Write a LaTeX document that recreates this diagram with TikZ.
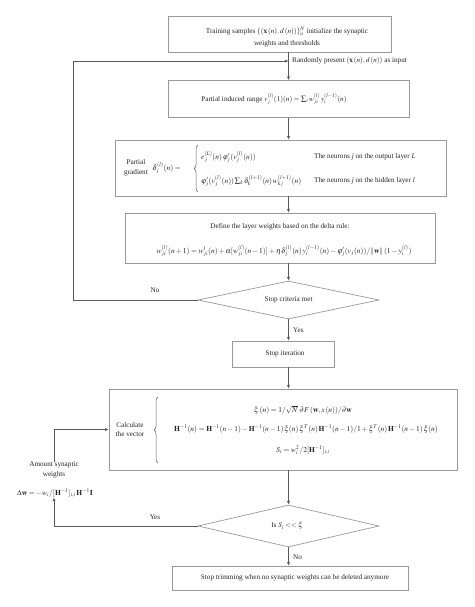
\documentclass[tikz,border=0pt]{standalone}
\usepackage{amsmath}
\usepackage{mathptmx}
\usepackage{fontspec}
\setmainfont{Liberation Serif}
\usetikzlibrary{shapes.geometric,arrows.meta,decorations.pathreplacing}
\begin{document}
\begin{tikzpicture}[x=1pt,y=-1pt,
  font=\fontsize{7.2}{9}\selectfont,
  box/.style={draw=gray!80, line width=0.7pt, rectangle, inner sep=0pt},
  dia/.style={draw=gray!80, line width=0.7pt, diamond, inner sep=0pt},
  txt/.style={inner sep=0pt, align=center, text=black!85},
  mth/.style={txt, font=\fontsize{7.5}{9}\selectfont},
  line/.style={draw=gray!70!black, line width=0.6pt},
  arr/.style={line, -{Latex[length=3.5pt,width=3pt]}},
  brc/.style={draw=gray!70!black, line width=0.5pt, decorate, decoration={brace, amplitude=4pt}}]
\fill[white] (0,0) rectangle (474,607);
\useasboundingbox (0,0) rectangle (474,607);

% boxes
\node[box, minimum width=223pt, minimum height=36pt] (b1) at (279.5,34) {};
\node[box, minimum width=241pt, minimum height=37pt] (b2) at (288.5,99) {};
\node[box, minimum width=331pt, minimum height=56pt] (b3) at (280.5,168) {};
\node[box, minimum width=310pt, minimum height=50pt] (b4) at (280,238) {};
\node[dia, minimum width=181pt, minimum height=38pt] (d1) at (288.5,300) {};
\node[box, minimum width=102pt, minimum height=26pt] (si) at (283,354) {};
\node[box, minimum width=348pt, minimum height=81pt] (big) at (283,429.5) {};
\node[dia, minimum width=181pt, minimum height=42pt] (d2) at (288.5,526) {};
\node[box, minimum width=236pt, minimum height=24pt] (fin) at (290,578) {};

% texts
\node[txt] (t1) at (287,37) {Training samples $\{(\mathbf{x}\,(n), d\,(n))\}_n^N$ initialize the synaptic\\[2.5pt]weights and thresholds};
\node[txt, anchor=west] (rp) at (292,61) {Randomly present $(\mathbf{x}\,(n), d\,(n))$ as input};
\node[txt] (t2) at (274,99) {Partial induced range $v_j^{(l)}(1)(n) = \sum_i w_{ji}^{(l)}\, y_i^{(l-1)}(n)$};
\node[txt] (pg) at (136,168) {Partial\\[1pt]gradient};
\node[mth, anchor=east] (dl) at (181,168) {$\delta_j^{(l)}(n) =$};
\node[mth, anchor=west] (c1) at (201,157) {$e_j^{(L)}(n)\,\varphi_j'(v_j^{(l)}(n))$};
\node[mth, anchor=west] (c2) at (201,181) {$\varphi_j'(v_j^{(l)}(n))\sum_k\delta_k^{(l+1)}(n)\,w_{kj}^{(l+1)}(n)$};
\node[txt, anchor=west] (r1) at (314,157) {The neurons \textit{j} on the output layer \textit{L}};
\node[txt, anchor=west] (r2) at (314,181) {The neurons \textit{j} on the hidden layer \textit{l}};
\node[txt] (t4a) at (280,227) {Define the layer weights based on the delta rule:};
\node[mth] (t4b) at (284,251) {$w_{ji}^{(l)}(n+1) = w_{ji}^{l}(n) + \alpha[w_{ji}^{(l)}(n-1)] + \eta\delta_j^{(l)}(n)\,y_i^{(l-1)}(n) - \varphi_j'(v_j(n))/\|\mathbf{w}\|\,(1-y_i^{(l)})$};
\node[txt] (td1) at (288.5,300) {Stop criteria met};
\node[txt] (tsi) at (285,354) {Stop iteration};
\node[txt] (cv) at (130,430) {Calculate\\[0pt]the vector};
\node[mth] (e1) at (303,410) {$\xi\,(n) = 1/\sqrt{N}\ \partial F\,(\mathbf{w}, x\,(n))/\partial\mathbf{w}$};
\node[mth] (e2) at (306,429) {$\mathbf{H}^{-1}(n) = \mathbf{H}^{-1}(n-1) - \mathbf{H}^{-1}(n-1)\,\xi(n)\,\xi^T(n)\,\mathbf{H}^{-1}(n-1)/1 + \xi^T(n)\,\mathbf{H}^{-1}(n-1)\,\xi(n)$};
\node[mth] (e3) at (303,450) {$S_i = w_i^2/2[\mathbf{H}^{-1}]_{i,i}$};
\node[txt] (amt) at (54,470) {Amount synaptic\\[1pt]weights};
\node[mth] (dw) at (55,493) {$\Delta\mathbf{w} = -w_i/[\mathbf{H}^{-1}]_{i,i}\,\mathbf{H}^{-1}\mathbf{I}$};
\node[txt] (td2) at (287,526) {Is $S_i << \xi$};
\node[txt] (tfin) at (295,578) {Stop trimming when no synaptic weights can be deleted anymore};
\node[txt] (no1) at (155,290) {No};
\node[txt, anchor=west] (yes1) at (293,330) {Yes};
\node[txt] (yes2) at (155,517) {Yes};
\node[txt, anchor=west] (no2) at (293,557) {No};

% braces
\coordinate (bb3a) at (198,192);
\coordinate (bb3b) at (198,145);
\draw[brc] (bb3a) -- (bb3b);
\coordinate (bbga) at (158,463);
\coordinate (bbgb) at (158,397);
\draw[brc] (bbga) -- (bbgb);

% connectors
\draw[arr] (b1.south -| b2.north) -- (b2.north);
\draw[arr] (b2.south) -- (b2.south |- b3.north);
\draw[arr] (b2.south |- b3.south) -- (b2.south |- b4.north);
\draw[arr] (b2.south |- b4.south) -- (d1.north);
\draw[arr] (d1.south) -- (d1.south |- si.north);
\draw[arr] (d1.south |- si.south) -- (d1.south |- big.north);
\draw[arr] (d1.south |- big.south) -- (d2.north);
\draw[arr] (d2.south) -- (d2.south |- fin.north);

\coordinate (lc) at (73,61);
\coordinate (join) at (288.5,61);
\draw[arr] (d1.west) -| (lc) -- (join);

\coordinate (yc) at (54,526);
\draw[arr] (d2.west) -- (yc) -- (yc |- dw.south);
\draw[arr] (amt.north -| yc) -- (yc |- big.west) -- (big.west);
\end{tikzpicture}
\end{document}
